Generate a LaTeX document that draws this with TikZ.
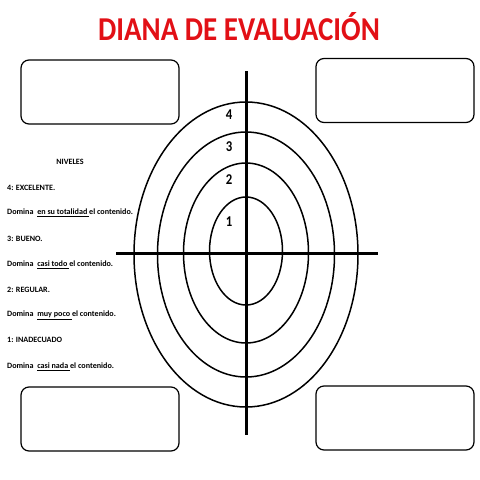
\documentclass[tikz,border=0pt]{standalone}
\usepackage{fontspec}
\setmainfont{Carlito}
\usetikzlibrary{positioning}
\definecolor{titlered}{RGB}{226,16,22}
\begin{document}
\begin{tikzpicture}[
  x=1pt, y=-1pt,
  box/.style={rectangle, draw, rounded corners=8pt, line width=1.2pt, minimum width=158pt, minimum height=64pt},
  lvl/.style={anchor=west, font=\bfseries\fontsize{8.1}{10}\selectfont, inner sep=0pt},
  num/.style={font=\bfseries\fontsize{15}{17}\selectfont, inner sep=0pt, xscale=0.85},
  ring/.style={line width=1.5pt},
  axis/.style={line width=3pt}
]
\useasboundingbox (0,0) rectangle (480,480);
\node[font=\bfseries\fontsize{29}{34}\selectfont, text=titlered, yscale=1.15] (title) at (239,27) {DIANA DE EVALUACIÓN};

% cuadros
\node[box] (boxTL) at (100,92) {};
\node[box] (boxTR) at (395,90.5) {};
\node[box] (boxBL) at (100,419) {};
\node[box] (boxBR) at (395,418) {};

% diana
\foreach \cy/\rx/\ry in {251/36.5/54, 253/62.5/90, 254.5/88.5/122.5, 254.5/112/152.5}
  \draw[ring] (246,\cy) ellipse [x radius=\rx pt, y radius=\ry pt];
\coordinate (vtop) at (246,71);
\coordinate (vbot) at (246,435);
\coordinate (hleft) at (116,253);
\coordinate (hright) at (378,253);
\draw[axis] (vtop) -- (vbot);
\draw[axis] (hleft) -- (hright);

\node[num] (n4) at (229,115) {4};
\node[num] (n3) at (229,147) {3};
\node[num] (n2) at (229,180) {2};
\node[num] (n1) at (229,222) {1};

% niveles
\node[lvl, anchor=center] (niv) at (70,162) {NIVELES};
\node[lvl] (l4) at (7,188) {4: EXCELENTE.};
\node[lvl] (d4) at (7,213) {Domina \ \underline{en su totalidad }el contenido.};
\node[lvl] (l3) at (7,238.5) {3: BUENO.};
\node[lvl] (d3) at (7,264.5) {Domina \ \underline{casi todo }el contenido.};
\node[lvl] (l2) at (7,290) {2: REGULAR.};
\node[lvl] (d2) at (7,315) {Domina \ \underline{muy poco }el contenido.};
\node[lvl] (l1) at (7,340) {1: INADECUADO};
\node[lvl] (d1) at (7,366.5) {Domina \ \underline{casi nada }el contenido.};
\end{tikzpicture}
\end{document}
